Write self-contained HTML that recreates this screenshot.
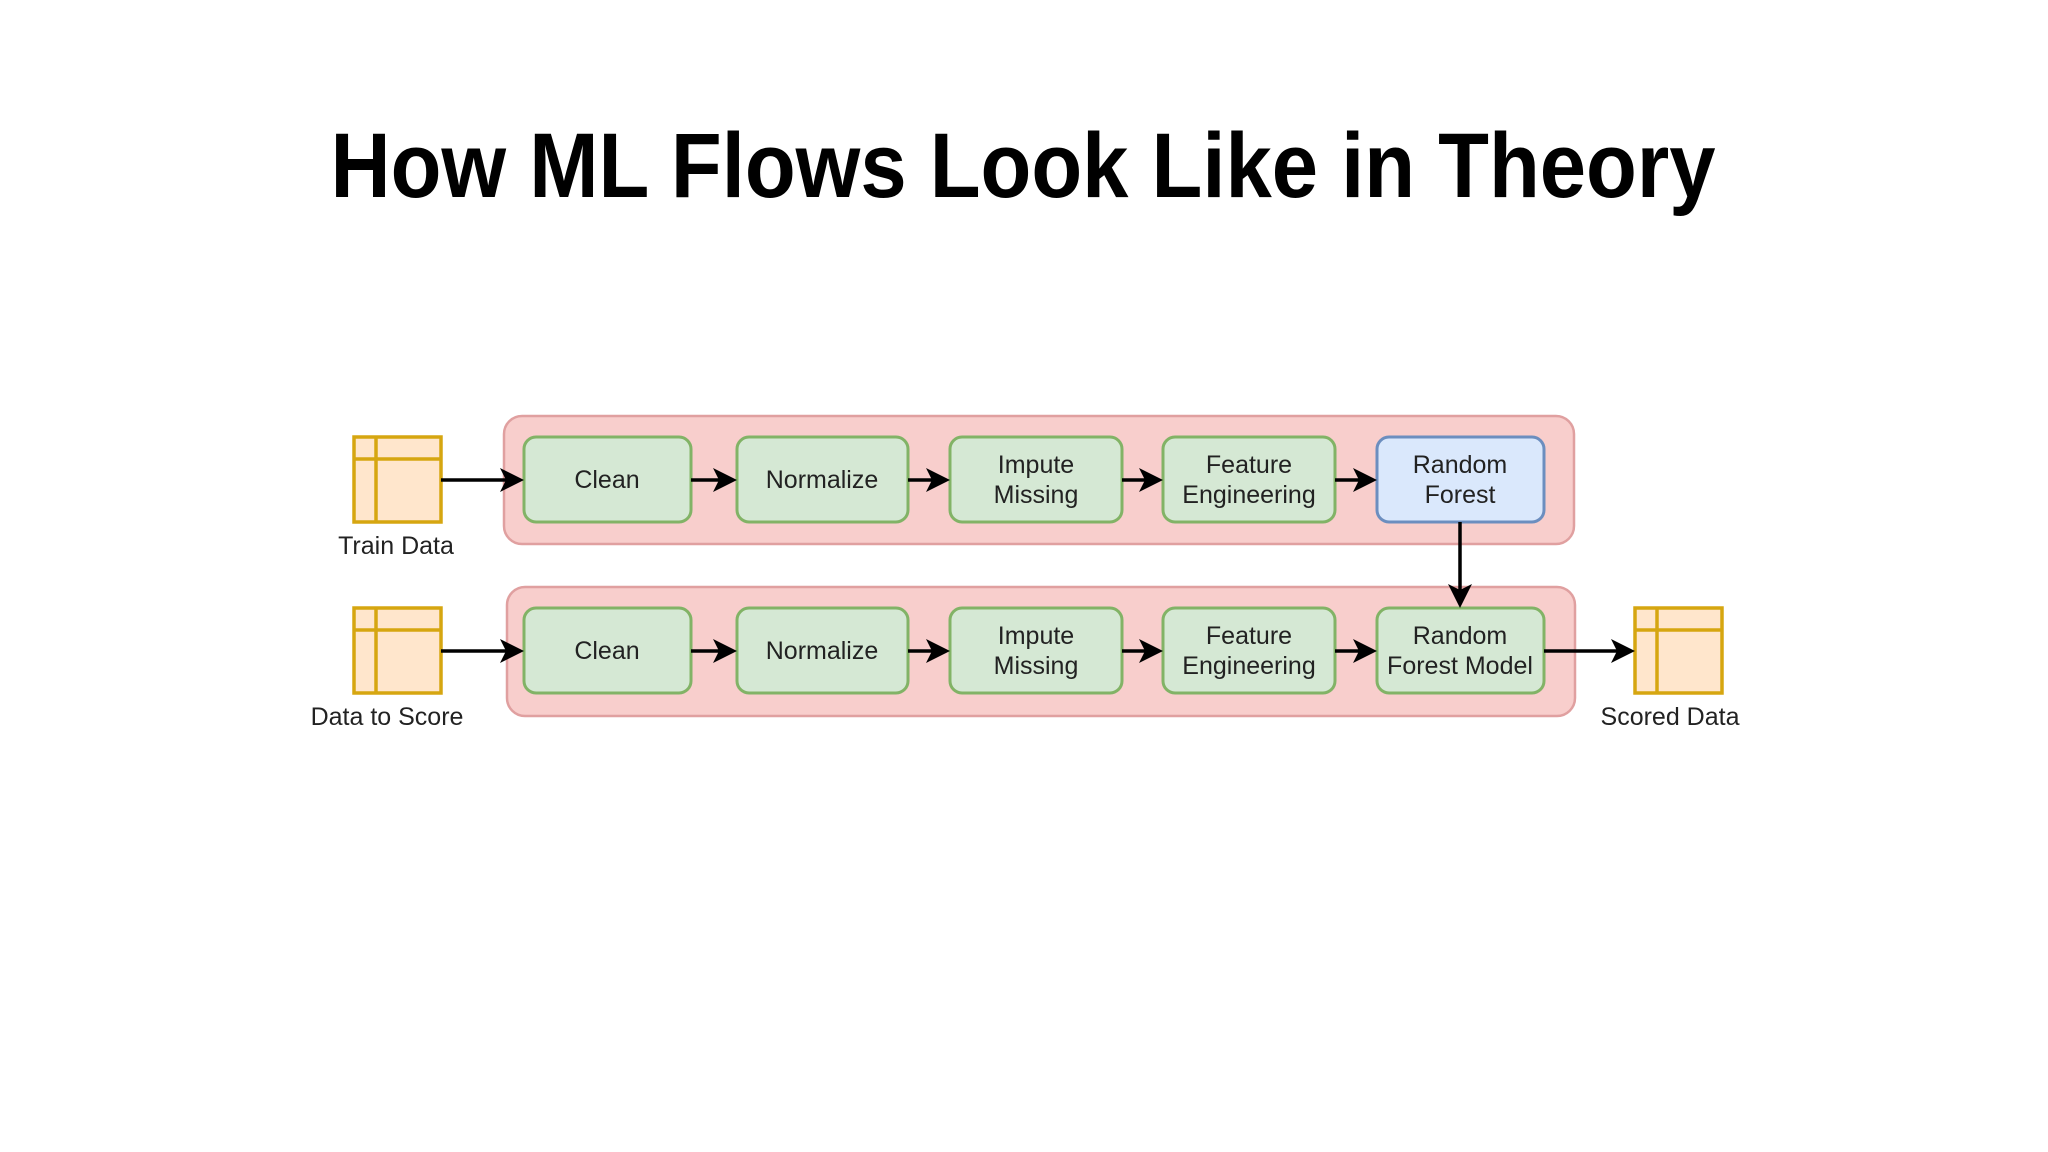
<!DOCTYPE html>
<html><head><meta charset="utf-8"><style>
html,body{margin:0;padding:0;background:#fff;}
svg{display:block;}
</style></head><body>
<svg width="2048" height="1152" viewBox="0 0 2048 1152" xmlns="http://www.w3.org/2000/svg">
<rect width="2048" height="1152" fill="#fff"/>
<text x="1023" y="197" text-anchor="middle" font-family="Liberation Sans, sans-serif" font-weight="bold" font-size="92" textLength="1385" lengthAdjust="spacingAndGlyphs" fill="#000">How ML Flows Look Like in Theory</text>

<rect x="504" y="416" width="1070" height="128" rx="18" fill="#f8cecc" stroke="#e0a0a0" stroke-width="2.5"/>
<rect x="507" y="587" width="1068" height="129" rx="18" fill="#f8cecc" stroke="#e0a0a0" stroke-width="2.5"/>

<g font-family="Liberation Sans, sans-serif" font-size="25" fill="#222" text-anchor="middle">
<rect x="524" y="437" width="167" height="85" rx="12" fill="#d5e8d4" stroke="#82b366" stroke-width="3"/>
<text x="607" y="488">Clean</text>
<rect x="737" y="437" width="171" height="85" rx="12" fill="#d5e8d4" stroke="#82b366" stroke-width="3"/>
<text x="822" y="488">Normalize</text>
<rect x="950" y="437" width="172" height="85" rx="12" fill="#d5e8d4" stroke="#82b366" stroke-width="3"/>
<text x="1036" y="473">Impute</text><text x="1036" y="503">Missing</text>
<rect x="1163" y="437" width="172" height="85" rx="12" fill="#d5e8d4" stroke="#82b366" stroke-width="3"/>
<text x="1249" y="473">Feature</text><text x="1249" y="503">Engineering</text>
<rect x="1377" y="437" width="167" height="85" rx="12" fill="#dae8fc" stroke="#6c8ebf" stroke-width="3"/>
<text x="1460" y="473">Random</text><text x="1460" y="503">Forest</text>
<rect x="524" y="608" width="167" height="85" rx="12" fill="#d5e8d4" stroke="#82b366" stroke-width="3"/>
<text x="607" y="659">Clean</text>
<rect x="737" y="608" width="171" height="85" rx="12" fill="#d5e8d4" stroke="#82b366" stroke-width="3"/>
<text x="822" y="659">Normalize</text>
<rect x="950" y="608" width="172" height="85" rx="12" fill="#d5e8d4" stroke="#82b366" stroke-width="3"/>
<text x="1036" y="644">Impute</text><text x="1036" y="674">Missing</text>
<rect x="1163" y="608" width="172" height="85" rx="12" fill="#d5e8d4" stroke="#82b366" stroke-width="3"/>
<text x="1249" y="644">Feature</text><text x="1249" y="674">Engineering</text>
<rect x="1377" y="608" width="167" height="85" rx="12" fill="#d5e8d4" stroke="#82b366" stroke-width="3"/>
<text x="1460" y="644">Random</text><text x="1460" y="674">Forest Model</text>

<text x="396" y="554">Train Data</text>
<text x="387" y="725">Data to Score</text>
<text x="1670" y="725">Scored Data</text>
</g>

<g fill="#ffe6cc" stroke="#d6a610" stroke-width="3.5">
<rect x="354" y="437" width="87" height="85"/>
<line x1="376" y1="437" x2="376" y2="522"/><line x1="354" y1="459" x2="441" y2="459"/>
<rect x="354" y="608" width="87" height="85"/>
<line x1="376" y1="608" x2="376" y2="693"/><line x1="354" y1="630" x2="441" y2="630"/>
<rect x="1635" y="608" width="87" height="85"/>
<line x1="1657" y1="608" x2="1657" y2="693"/><line x1="1635" y1="630" x2="1722" y2="630"/>
</g>

<g stroke="#000" stroke-width="3.5" fill="none">
<line x1="441" y1="480" x2="512" y2="480"/>
<line x1="691" y1="480" x2="726" y2="480"/>
<line x1="908" y1="480" x2="939" y2="480"/>
<line x1="1122" y1="480" x2="1152" y2="480"/>
<line x1="1335" y1="480" x2="1366" y2="480"/>
<line x1="441" y1="651" x2="512" y2="651"/>
<line x1="691" y1="651" x2="726" y2="651"/>
<line x1="908" y1="651" x2="939" y2="651"/>
<line x1="1122" y1="651" x2="1152" y2="651"/>
<line x1="1335" y1="651" x2="1366" y2="651"/>
<line x1="1544" y1="651" x2="1624" y2="651"/>
<line x1="1460" y1="522" x2="1460" y2="596"/>
</g>
<g fill="#000">
<path d="M524 480 L500 468 L506 480 L500 492 Z"/>
<path d="M737 480 L713 468 L719 480 L713 492 Z"/>
<path d="M950 480 L926 468 L932 480 L926 492 Z"/>
<path d="M1163 480 L1139 468 L1145 480 L1139 492 Z"/>
<path d="M1377 480 L1353 468 L1359 480 L1353 492 Z"/>
<path d="M524 651 L500 639 L506 651 L500 663 Z"/>
<path d="M737 651 L713 639 L719 651 L713 663 Z"/>
<path d="M950 651 L926 639 L932 651 L926 663 Z"/>
<path d="M1163 651 L1139 639 L1145 651 L1139 663 Z"/>
<path d="M1377 651 L1353 639 L1359 651 L1353 663 Z"/>
<path d="M1635 651 L1611 639 L1617 651 L1611 663 Z"/>
<path d="M1460 608 L1448 584 L1460 590 L1472 584 Z"/>
</g>
</svg>
</body></html>
